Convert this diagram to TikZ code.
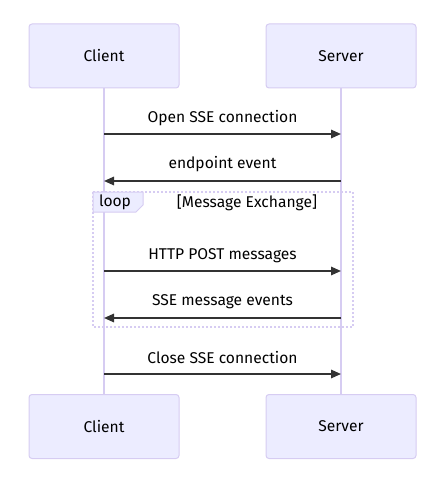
\documentclass[tikz,border=0pt]{standalone}
\usepackage{fontspec}
\setmainfont{Fira Sans}
\usetikzlibrary{arrows.meta}
\definecolor{actfill}{HTML}{ECECFF}
\definecolor{actline}{HTML}{D6CCF2}
\definecolor{msgline}{HTML}{333333}
\tikzset{
  actor/.style={draw=actline, fill=actfill, line width=1pt, rounded corners=3pt,
    minimum width=150pt, minimum height=64pt, inner sep=0pt, font=\fontsize{15.6}{18}\selectfont},
  lifeline/.style={draw=actline, line width=1.5pt},
  msg/.style={draw=msgline, line width=1.6pt, -{Triangle[length=10pt,width=8.5pt]}},
  msgtext/.style={font=\fontsize{15.6}{18}\selectfont, text=black, inner sep=0pt},
  loopbox/.style={draw=actline, line width=1.6pt, dash pattern=on 2pt off 2pt},
}
\begin{document}
\begin{tikzpicture}[x=1pt,y=-1pt]
\useasboundingbox (0,0) rectangle (440,481);
% actors
\node[actor] (cT) at (104,56) {Client};
\node[actor] (sT) at (341,56) {Server};
\node[actor] (cB) at (104,426.5) {Client};
\node[actor] (sB) at (341,426.5) {Server};
% lifelines
\draw[lifeline] (cT.south) -- (cB.north);
\draw[lifeline] (sT.south) -- (sB.north);
% loop box
\draw[loopbox] (93,192) rectangle (353,327);
\draw[actline, fill=actfill, line width=1pt] (93,192) -- (143,192) -- (143,205) -- (136,212) -- (93,212) -- cycle;
\node[msgtext] (looplbl) at (115,202) {loop};
\node[msgtext] (looptitle) at (247,203) {[Message Exchange]};
% message coordinates
\coordinate (c1) at (104,134); \coordinate (s1) at (341,134);
\coordinate (c2) at (104,181); \coordinate (s2) at (341,181);
\coordinate (c3) at (104,271); \coordinate (s3) at (341,271);
\coordinate (c4) at (104,318); \coordinate (s4) at (341,318);
\coordinate (c5) at (104,374); \coordinate (s5) at (341,374);
% messages
\draw[msg] (c1) -- (s1);
\node[msgtext] (t1) at (222.5,118.5) {Open SSE connection};
\draw[msg] (s2) -- (c2);
\node[msgtext] (t2) at (222.5,164.5) {endpoint event};
\draw[msg] (c3) -- (s3);
\node[msgtext] (t3) at (222.5,255.5) {HTTP POST messages};
\draw[msg] (s4) -- (c4);
\node[msgtext] (t4) at (222.5,301.5) {SSE message events};
\draw[msg] (c5) -- (s5);
\node[msgtext] (t5) at (222.5,357.5) {Close SSE connection};
\end{tikzpicture}
\end{document}
